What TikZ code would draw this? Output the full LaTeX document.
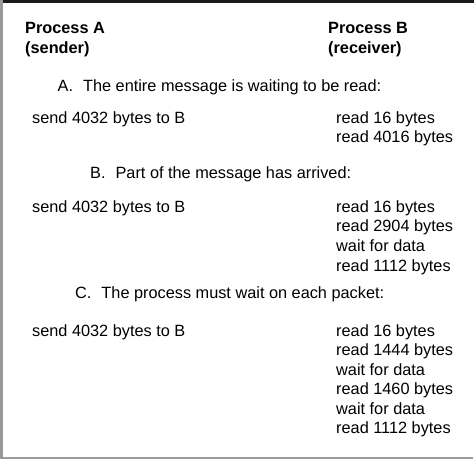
\documentclass[tikz,border=0pt]{standalone}
\usepackage{fontspec}
\setmainfont{Liberation Sans}
\usetikzlibrary{positioning}
\definecolor{rimdark}{HTML}{1A1A1A}
\definecolor{rimgray}{HTML}{9A9A9A}
\newcommand{\casegap}{\hspace{10pt}}

\begin{document}
\begin{tikzpicture}[x=1pt, y=-1pt,
  txt/.style={anchor=base west, inner sep=0pt,
    font=\fontsize{16.3}{19.6}\selectfont},
  head/.style={txt, font=\fontsize{16.3}{19.6}\selectfont\bfseries}]
  \useasboundingbox (0,0) rectangle (474,459);
  % Frame
  \draw[rimdark, line width=2.5pt] (0,1.25) -- (474,1.25);
  \draw[rimgray, line width=2.5pt] (1.25,0) -- (1.25,459);
  \draw[rimgray, line width=2.5pt] (0,457.75) -- (473,457.75);
  % Column headers
  \node[head] (procA) at (25,33) {Process A};
  \node[head] (roleA) at (25,53) {(sender)};
  \node[head] (procB) at (328,33) {Process B};
  \node[head] (roleB) at (328,53) {(receiver)};
  % Case A
  \node[txt] (caseA) at (57.5,91) {A.\casegap The entire message is waiting to be read:};
  \node[txt] (sendA) at (32,123) {send 4032 bytes to B};
  \foreach \i/\t in {1/read 16 bytes, 2/read 4016 bytes}
    \node[txt] (readA\i) at (336,{123+19.8*(\i-1)}) {\t};
  % Case B
  \node[txt] (caseB) at (90,178) {B.\casegap Part of the message has arrived:};
  \node[txt] (sendB) at (32,212) {send 4032 bytes to B};
  \foreach \i/\t in {1/read 16 bytes, 2/read 2904 bytes,
                     3/wait for data, 4/read 1112 bytes}
    \node[txt] (readB\i) at (336,{212+19.8*(\i-1)}) {\t};
  % Case C
  \node[txt] (caseC) at (75,298) {C.\casegap The process must wait on each packet:};
  \node[txt] (sendC) at (32,336) {send 4032 bytes to B};
  \foreach \i/\t in {1/read 16 bytes, 2/read 1444 bytes, 3/wait for data,
                     4/read 1460 bytes, 5/wait for data, 6/read 1112 bytes}
    \node[txt] (readC\i) at (336,{336+19.5*(\i-1)}) {\t};
\end{tikzpicture}
\end{document}
